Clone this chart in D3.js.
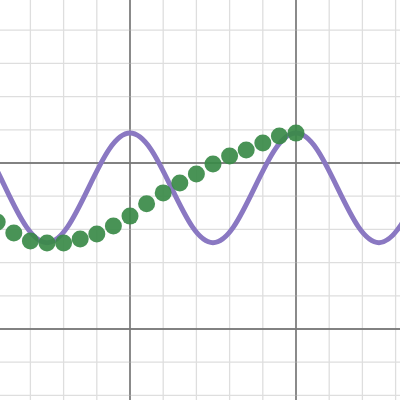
<!DOCTYPE html><html><head><script src="https://cdn.jsdelivr.net/npm/d3@7"></script>
<style>body{margin:0;background:#fff}</style></head><body><svg id="c" width="400" height="400"></svg>
<script>
const pointX=[-4,-3.5,-3,-2.5,-2,-1.5,-1,-0.5,0,0.5,1,1.5,2,2.5,3,3.5,4,4.5,5];
const pointY=[-1.78,-2.11,-2.35,-2.41,-2.41,-2.29,-2.14,-1.9,-1.6,-1.23,-0.9,-0.6,-0.33,-0.03,0.21,0.39,0.6,0.81,0.9];
const curveX=[-5,-4.375,-3.75,-3.125,-2.5,-1.875,-1.25,-0.625,0,0.625,1.25,1.875,2.5,3.125,3.75,4.375,5,5.625,6.25,6.875,7.5,8.125,8.75];
const curveY=[0.9,0.417,-0.75,-1.917,-2.4,-1.917,-0.75,0.417,0.9,0.417,-0.75,-1.917,-2.4,-1.917,-0.75,0.417,0.9,0.417,-0.75,-1.917,-2.4,-1.917,-0.75];
const u=33.2;
const x=d3.scaleLinear().domain([0,1]).range([130,130+u]);
const y=d3.scaleLinear().domain([0,1]).range([163,163-u]);
const svg=d3.select("#c");
for(let i=-5;i<=10;i++){
  const major=i%5===0;
  svg.append("line").attr("x1",x(i)).attr("x2",x(i)).attr("y1",0).attr("y2",400)
    .attr("stroke",major?"#7a7a7a":"#dedede").attr("stroke-width",major?1.3:1.3);
}
for(let j=-8;j<=6;j++){
  const major=j%5===0;
  svg.append("line").attr("y1",y(j)).attr("y2",y(j)).attr("x1",0).attr("x2",400)
    .attr("stroke",major?"#7a7a7a":"#dedede").attr("stroke-width",1.3);
}
// redraw majors on top
[-5,0,5,10].forEach(i=>svg.append("line").attr("x1",x(i)).attr("x2",x(i)).attr("y1",0).attr("y2",400).attr("stroke","#7a7a7a").attr("stroke-width",1.3));
[-5,0,5].forEach(j=>svg.append("line").attr("y1",y(j)).attr("y2",y(j)).attr("x1",0).attr("x2",400).attr("stroke","#7a7a7a").attr("stroke-width",1.3));
svg.append("path").datum(curveX.map((v,i)=>[v,curveY[i]]))
  .attr("d",d3.line().x(d=>x(d[0])).y(d=>y(d[1])).curve(d3.curveNatural))
  .attr("fill","none").attr("stroke","#8a78c2").attr("stroke-width",5);
svg.selectAll("circle.p").data(pointX.map((v,i)=>[v,pointY[i]])).join("circle")
  .attr("cx",d=>x(d[0])).attr("cy",d=>y(d[1])).attr("r",8.5)
  .attr("fill","#3a8a48").attr("fill-opacity",0.92);
</script></body></html>
